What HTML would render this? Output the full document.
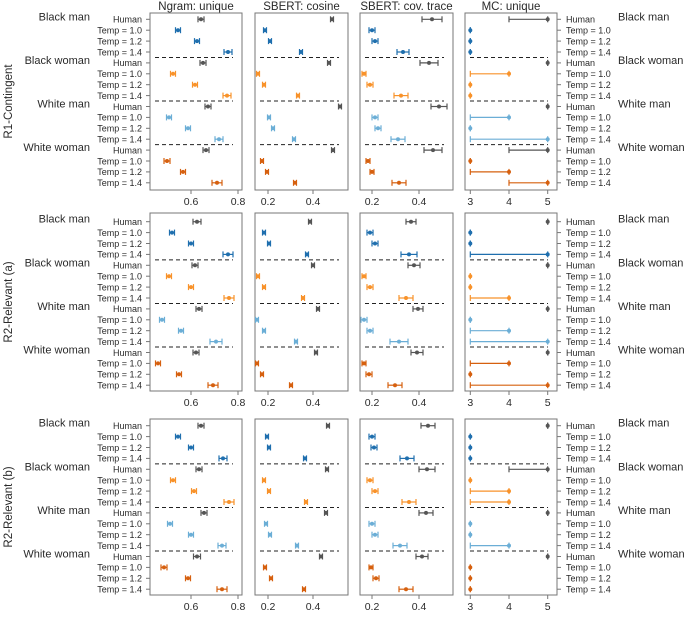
<!DOCTYPE html>
<html><head><meta charset="utf-8"><style>
html,body{margin:0;padding:0;background:#fff;}
svg text{font-family:"Liberation Sans",sans-serif;fill:#2a2a2a;}
</style></head><body>
<svg id="s" width="685" height="612" xmlns="http://www.w3.org/2000/svg"></svg>
<script>
const S=document.getElementById('s');let h='';
const C=['#555555','#1f6fae','#f8922a','#6baed6','#d6600f'];
const P=[[150,242],[255,348],[360,453],[465,557]];
const tops=[13,213,419],first=[19.3,221.7,425.7],bots=[190,391,595],step=10.9;
const groups=['Black man','Black woman','White man','White woman'];
const rl=['Human','Temp = 1.0','Temp = 1.2','Temp = 1.4'];
const rows=['R1-Contingent','R2-Relevant (a)','R2-Relevant (b)'];
const mc=x=>470.3+(x-3)*38.7;
const D=[
[
[[201,3],[178,2.5],[197,2.5],[228,4],[203,3],[173,2.5],[195,2.5],[227,4],[208,3],[169,2.5],[188,2.5],[219,4],[206,3],[167,3],[183,2.5],[217,5]],
[[332,1.5],[265,1.5],[270,1.5],[301,1.5],[329,1.5],[258,1.5],[264,1.5],[298,1.5],[340,1.5],[269,1.5],[273,1.5],[294,1.5],[333,1.5],[262,1.5],[267,1.5],[295,1.5]],
[[432,10],[372,3],[375,3],[403,6],[429,9],[364,2],[370,3],[401,7],[439,8],[375,3],[378,3],[398,7],[433,9],[368,2],[372,2],[399,7]],
[[4,5,5],[3,3,3],[3,3,3],[3,3,3],[5,5,5],[3,4,4],[3,3,3],[3,3,3],[5,5,5],[3,4,4],[3,3,3],[3,5,5],[4,5,5],[3,3,3],[3,4,4],[4,5,5]]
],[
[[197,4],[172,2.5],[191,2.5],[228,5],[195,3],[169,2.5],[191,2.5],[229,5],[199,3],[162,2.5],[181,2.5],[216,6],[196,3],[158,2.5],[179,2.5],[213,5]],
[[310,1.5],[264,1.5],[269,1.5],[307,1.5],[313,1.5],[258,1.5],[264,1.5],[303,1.5],[318,1.5],[257,1.5],[264,1.5],[296,1.5],[316,1.5],[257,1.5],[262,1.5],[291,1.5]],
[[411,5],[370,3],[375,3],[409,8],[414,6],[364,2],[370,3],[406,7],[418,5],[364,3],[370,3],[399,9],[417,6],[364,2],[369,3],[395,7]],
[[5,5,5],[3,3,3],[3,3,3],[3,5,5],[5,5,5],[3,3,3],[3,3,3],[3,4,4],[5,5,5],[3,3,3],[3,4,4],[3,5,5],[5,5,5],[3,4,4],[3,3,3],[3,5,5]]
],[
[[201,3],[178,2.5],[191,2.5],[223,4],[199,3],[173,2.5],[194,2.5],[229,5],[204,3],[170,2.5],[191,2.5],[222,4],[197,3.5],[164,3],[188,2.5],[222,5]],
[[328,1.5],[267,1.5],[269,1.5],[305,1.5],[327,1.5],[264,1.5],[269,1.5],[306,1.5],[326,1.5],[266,1.5],[270,1.5],[297,1.5],[321,1.5],[265,1.5],[271,1.5],[304,1.5]],
[[428,7],[372,3],[374,3],[407,7],[427,8],[370,3],[375,3],[409,7],[426,7],[372,3],[375,3],[400,7],[422,6],[371,2],[376,3],[406,7]],
[[5,5,5],[3,3,3],[3,3,3],[3,3,3],[4,5,5],[3,3,3],[3,4,4],[3,4,4],[5,5,5],[3,3,3],[3,3,3],[3,4,4],[5,5,5],[3,3,3],[3,3,3],[3,3,3]]
]];
const titles=['Ngram: unique','SBERT: cosine','SBERT: cov. trace','MC: unique'];
titles.forEach((t,i)=>h+=`<text x="${(P[i][0]+P[i][1])/2}" y="10" font-size="11.5" text-anchor="middle">${t}</text>`);
const ticks=[[['0.6',191],['0.8',238]],[['0.2',268],['0.4',313]],[['0.2',372],['0.4',419]],[['3',470.3],['4',509],['5',547.7]]];
for(let r=0;r<3;r++){
 const t=tops[r],b=bots[r];
 h+=`<text transform="translate(12,${(t+b)/2}) rotate(-90)" font-size="11.5" text-anchor="middle">${rows[r]}</text>`;
 for(let p=0;p<4;p++){
  const [l,rr]=P[p];
  h+=`<rect x="${l}" y="${t}" width="${rr-l}" height="${b-t}" fill="none" stroke="#777" stroke-width="1"/>`;
  ticks[p].forEach(([v,x])=>{h+=`<line x1="${x}" y1="${b}" x2="${x}" y2="${b+4}" stroke="#777"/><text x="${x}" y="${b+15}" font-size="10.5" text-anchor="middle">${v}</text>`;});
  for(let g=1;g<4;g++){const y=first[r]+(g*4-0.5)*step;h+=`<line x1="${l+5}" y1="${y}" x2="${rr-9}" y2="${y}" stroke="#222" stroke-dasharray="4,3"/>`;}
  for(let k=0;k<16;k++){
   const y=first[r]+k*step,col=C[k%4==0?0:Math.floor(k/4)+1];
   const d=D[r][p][k];
   let x0,x1,xc;
   if(p==3){x0=mc(d[0]);x1=mc(d[1]);xc=mc(d[2]);}else{xc=d[0];x0=d[0]-d[1];x1=d[0]+d[1];}
   h+=`<line x1="${x0}" y1="${y}" x2="${x1}" y2="${y}" stroke="${col}" stroke-width="1.2"/>`;
   h+=`<line x1="${x0}" y1="${y-3}" x2="${x0}" y2="${y+3}" stroke="${col}" stroke-width="1.2"/><line x1="${x1}" y1="${y-3}" x2="${x1}" y2="${y+3}" stroke="${col}" stroke-width="1.2"/>`;
   h+=`<circle cx="${xc}" cy="${y}" r="2" fill="${col}"/>`;
  }
 }
 for(let k=0;k<16;k++){
  const y=first[r]+k*step,lab=rl[k%4];
  h+=`<line x1="146" y1="${y}" x2="150" y2="${y}" stroke="#777"/><text x="142" y="${y+3.3}" font-size="9" text-anchor="end">${lab}</text>`;
  h+=`<line x1="557" y1="${y}" x2="561" y2="${y}" stroke="#777"/><text x="566" y="${y+3.3}" font-size="9">${lab}</text>`;
  if(k%4==0){h+=`<text x="90" y="${y+1}" font-size="11" text-anchor="end">${groups[k/4]}</text><text x="618" y="${y+1}" font-size="11">${groups[k/4]}</text>`;}
 }
}
S.innerHTML=h;
</script>
</body></html>
